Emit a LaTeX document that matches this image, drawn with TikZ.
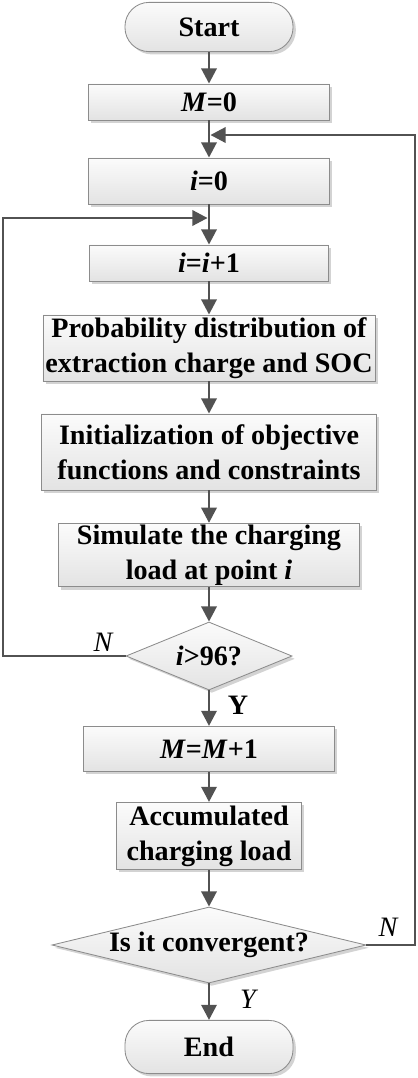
\documentclass[tikz,border=0pt]{standalone}
\usepackage{fontspec}
\setmainfont{Liberation Serif}
\usepackage{tikz}
\usetikzlibrary{arrows.meta, shapes.geometric, shadows}

\begin{document}
\begin{tikzpicture}[x=0.025cm, y=-0.025cm,
    font=\fontsize{20}{25}\selectfont\bfseries,
    flow/.style={-{Triangle[length=0.38cm, width=0.38cm]}, line width=2pt, black!68},
    procbox/.style={rectangle, draw=black!45, line width=0.6pt, top color=gray!3, bottom color=gray!22,
        align=center, inner sep=1pt,
        drop shadow={shadow xshift=2pt, shadow yshift=-2pt, fill=gray, opacity=0.35}},
    endbox/.style={procbox, rounded corners=0.6cm, minimum width=4.2cm},
    decide/.style={procbox, diamond, inner sep=0pt},
    lbl/.style={inner sep=0pt}]
    \useasboundingbox (0,0) rectangle (418,1078);

    % blocks
    \node[endbox, minimum height=1.23cm] (start) at (209,27) {Start};
    \node[procbox, minimum width=6.03cm, minimum height=0.9cm] (m0) at (209,102) {\textit{M}=0};
    \node[procbox, minimum width=6.03cm, minimum height=1.15cm] (i0) at (209,181) {\textit{i}=0};
    \node[procbox, minimum width=5.98cm, minimum height=0.9cm] (inc) at (209,263) {\textit{i}=\textit{i}+1};
    \node[procbox, minimum width=8.3cm, minimum height=1.65cm] (prob) at (209,348)
        {Probability distribution of\\extraction charge and SOC};
    \node[procbox, minimum width=8.38cm, minimum height=1.9cm] (init) at (209,452)
        {Initialization of objective\\functions and constraints};
    \node[procbox, minimum width=7.53cm, minimum height=1.55cm] (sim) at (209,555)
        {Simulate the charging\\load at point \textit{i}};
    \node[decide, aspect=2.44, minimum width=4.15cm, minimum height=1.7cm] (chk) at (209,656) {\textit{i}>96?};
    \node[procbox, minimum width=6.28cm, minimum height=1.13cm] (mm) at (209,749) {\textit{M}=\textit{M}+1};
    \node[procbox, minimum width=4.63cm, minimum height=1.68cm] (acc) at (209,836) {Accumulated\\charging load};
    \node[decide, aspect=4.13, minimum width=7.85cm, minimum height=1.9cm] (conv) at (209,945) {Is it convergent?};
    \node[endbox, minimum height=1.33cm] (stop) at (209,1047) {End};

    % main flow
    \draw[flow] (start) -- (m0);
    \draw[flow] (m0) -- (i0);
    \draw[flow] (i0) -- (inc);
    \draw[flow] (inc) -- (prob);
    \draw[flow] (prob) -- (init);
    \draw[flow] (init) -- (sim);
    \draw[flow] (sim) -- (chk);
    \draw[flow] (chk) -- (mm);
    \draw[flow] (mm) -- (acc);
    \draw[flow] (acc) -- (conv);
    \draw[flow] (conv) -- (stop);

    % loops
    \coordinate (j1) at (209,218);
    \coordinate (j2) at (209,135);
    \coordinate (lft) at (3,218);
    \coordinate (rgt) at (415,135);
    \draw[flow, shorten >=1pt] (chk.west) -| (lft) -- (j1);
    \draw[flow, shorten >=1pt] (conv.east) -| (rgt) -- (j2);

    % labels
    \node[lbl] (nl) at (103,642) {\mdseries\itshape N};
    \node[lbl] (yl) at (238,705) {Y};
    \node[lbl] (nr) at (388,927) {\mdseries\itshape N};
    \node[lbl] (yr) at (248,999) {\mdseries\itshape Y};
\end{tikzpicture}
\end{document}
